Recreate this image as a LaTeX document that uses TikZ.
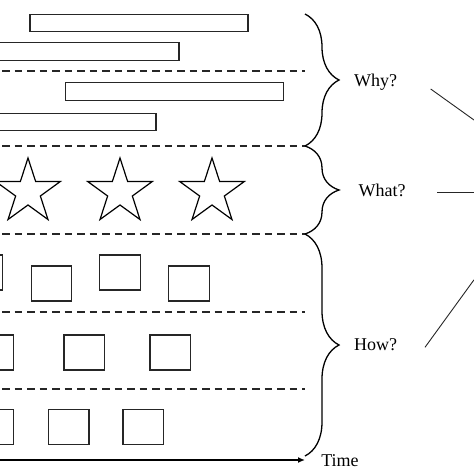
\documentclass[tikz,border=0pt]{standalone}
\usepackage{fontspec}
\setmainfont{Liberation Serif}
\usetikzlibrary{shapes.geometric,decorations.pathreplacing,arrows.meta}
\tikzset{
  bar/.style={draw=black!85, line width=1.4pt, inner sep=0pt, minimum width=218pt, minimum height=17.5pt},
  sq/.style={draw=black!85, line width=1.4pt, inner sep=0pt, minimum width=40.5pt, minimum height=35pt},
  starshape/.style={draw=black, line width=1.2pt, shape=star, star points=5, star point ratio=2.618, minimum size=68pt, inner sep=0pt},
  sep/.style={dashed, dash pattern=on 7.5pt off 5pt, line width=1.3pt, black!85},
  brace/.style={decorate, decoration={brace, amplitude=34pt}, line width=1.3pt},
  lab/.style={font=\fontsize{18}{20}\selectfont, inner sep=0pt},
  link/.style={line width=0.9pt, black!85}
}
\begin{document}
\begin{tikzpicture}[x=1pt,y=-1pt]
\useasboundingbox (0,0) rectangle (474,474);
\clip (0,0) rectangle (474,474);
% bars
\node[bar] (b1) at (139,23) {};
\node[bar] (b2) at (70,51.5) {};
\node[bar] (b3) at (174.7,91.5) {};
\node[bar] (b4) at (47,122) {};
% stars
\node[starshape] (s1) at (28,192) {};
\node[starshape] (s2) at (120,192) {};
\node[starshape] (s3) at (212,192) {};
% squares row 1
\node[sq] (r1a) at (-17.5,272.5) {};
\node[sq] (r1b) at (51.5,283.5) {};
\node[sq] (r1c) at (120,272.5) {};
\node[sq] (r1d) at (189,283.5) {};
% row 2
\node[sq] (r2a) at (-6.5,352.5) {};
\node[sq] (r2b) at (84.3,352.5) {};
\node[sq] (r2c) at (170.3,352.5) {};
% row 3
\node[sq] (r3a) at (-6.5,427) {};
\node[sq] (r3b) at (68.7,427) {};
\node[sq] (r3c) at (143.2,427) {};
% separators
\coordinate (d1l) at (2,71);  \coordinate (d1r) at (305,71);
\coordinate (d2l) at (2,146); \coordinate (d2r) at (305,146);
\coordinate (d3l) at (2,234); \coordinate (d3r) at (305,234);
\coordinate (d4l) at (2,312); \coordinate (d4r) at (305,312);
\coordinate (d5l) at (2,389); \coordinate (d5r) at (305,389);
\draw[sep] (d1l) -- (d1r);
\draw[sep] (d2l) -- (d2r);
\draw[sep] (d3l) -- (d3r);
\draw[sep] (d4l) -- (d4r);
\draw[sep] (d5l) -- (d5r);
% braces
\coordinate (btop) at (305,14);
\coordinate (bbot) at (305,456);
\draw[brace] (btop) -- (d2r);
\draw[brace] (d2r) -- (d3r);
\draw[brace] (d3r) -- (bbot);
% time axis
\coordinate (t0) at (0,460);
\coordinate (t1) at (305,460);
\draw[line width=1.4pt, -{Latex[length=7pt,width=6pt]}] (t0) -- (t1);
\node[lab] (time) at (340,461) {Time};
% labels
\node[lab] (why) at (375.5,82) {Why?};
\node[lab] (what) at (382,190) {What?};
\node[lab] (how) at (375.5,345) {How?};
% connectors
\coordinate (w0) at (430.7,89);  \coordinate (w1) at (474,120);
\coordinate (a0) at (437,192);   \coordinate (a1) at (474,192);
\coordinate (h0) at (425,347.3); \coordinate (h1) at (474,279.8);
\draw[link] (w0) -- (w1);
\draw[link] (a0) -- (a1);
\draw[link] (h0) -- (h1);
\end{tikzpicture}
\end{document}
